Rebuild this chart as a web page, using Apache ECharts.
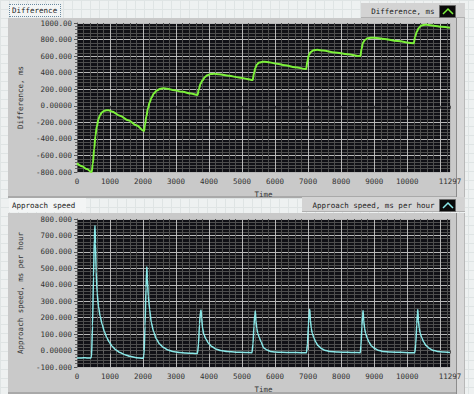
<!DOCTYPE html>
<html>
<head>
<meta charset="utf-8">
<script src="https://cdn.jsdelivr.net/npm/echarts@6/dist/echarts.min.js"></script>
<style>
  html, body { margin: 0; padding: 0; }
  body {
    width: 474px; height: 394px; overflow: hidden; position: relative;
    background-color: #eef1f1;
    background-image:
      linear-gradient(to right, #dfe4e4 1px, transparent 1px),
      linear-gradient(to bottom, #dfe4e4 1px, transparent 1px);
    background-size: 9px 9px;
  }
  .pnl { position: absolute; background: #c9c9c9; border-bottom: 2px solid #a9a9a9; box-sizing: border-box; }
  .strip { position: absolute; background: #d8d8d8; border-left: 1px solid #8c8c8c; border-right: 1px solid #b8b8b8; box-sizing: border-box; }
  .lgbox { position: absolute; background: #d3d3d3; border-bottom: 1px solid #b0b0b0; box-sizing: border-box; }
  .ttlbox { position: absolute; background: #f3f5f5; box-sizing: border-box; }
  #chart { position: absolute; left: 0; top: 0; width: 474px; height: 394px; }
</style>
</head>
<body>
<div class="pnl" style="left:8px;top:18px;width:448px;height:180px;"></div>
<div class="strip" style="left:456px;top:18px;width:9px;height:180px;"></div>
<div class="lgbox" style="left:361px;top:3px;width:104px;height:15px;"></div>
<div class="ttlbox" style="left:9px;top:4px;width:52px;height:13px;border:1px dotted #6a8aa0;"></div>
<div class="pnl" style="left:8px;top:213px;width:448px;height:181px;"></div>
<div class="strip" style="left:456px;top:213px;width:9px;height:181px;"></div>
<div class="lgbox" style="left:302px;top:197px;width:163px;height:15px;"></div>
<div class="ttlbox" style="left:9px;top:198px;width:77px;height:14px;"></div>
<div id="chart"></div>
<script>
// ---- data ----
const diffTime = [0,150,300,445,480,520,560,600,650,700,760,830,900,960,1050,1300,1550,1800,2030,
  2060,2100,2150,2200,2260,2330,2420,2520,2620,2750,2900,3200,3450,3650,
  3690,3740,3800,3870,3950,4050,4150,4300,4600,4900,5150,5320,
  5360,5400,5450,5520,5620,5750,6000,6300,6600,6940,
  6980,7020,7080,7170,7280,7450,7800,8200,8583,
  8620,8660,8720,8800,8900,9000,9300,9700,10199,
  10240,10290,10350,10420,10500,10600,10800,11050,11297];
const diffValue = [-695,-730,-765,-802,-700,-520,-360,-250,-160,-110,-78,-60,-54,-55,-68,-120,-175,-235,-305,
  -230,-130,-30,40,100,150,185,205,211,205,192,168,148,130,
  200,265,305,345,370,383,386,380,362,343,325,311,
  390,455,500,522,531,530,512,490,466,444,
  540,613,650,672,676,668,645,622,601,
  690,762,795,815,823,823,808,782,755,
  830,895,940,968,977,978,968,955,941];

const speedTime = [0,100,200,300,400,440,470,500,525,545,560,580,610,650,700,760,830,900,980,1070,1170,1300,1450,1600,1800,2000,
  2030,2060,2090,2115,2130,2160,2200,2250,2320,2400,2500,2620,2760,2900,3100,3300,3500,3650,
  3680,3710,3735,3756,3775,3800,3840,3900,3980,4080,4200,4350,4550,4800,5100,5300,
  5330,5360,5385,5402,5420,5445,5475,5520,5580,5655,5760,5860,6000,6200,6500,6800,6950,
  6980,7010,7035,7050,7070,7095,7125,7170,7230,7300,7400,7500,7650,7900,8200,8400,8580,
  8600,8630,8650,8665,8685,8710,8740,8785,8845,8920,9020,9120,9260,9500,9800,10050,10230,
  10260,10290,10310,10322,10340,10365,10395,10440,10500,10575,10675,10775,10920,11100,11297];
const speedValue = [-45,-46,-44,-45,-46,-40,150,450,680,760,650,480,350,270,210,160,115,80,50,25,5,-12,-25,-35,-43,-47,
  -30,150,380,510,440,330,250,170,115,72,40,18,3,-6,-12,-15,-17,-18,
  40,160,230,247,200,140,100,72,45,25,10,0,-6,-10,-12,-13,
  40,150,220,241,180,135,105,80,50,16,3,-5,-9,-11,-12,-13,-13,
  40,160,230,251,185,135,105,80,52,30,12,2,-5,-9,-11,-12,-13,
  30,150,215,243,180,135,105,78,50,28,12,2,-5,-9,-11,-13,-14,
  40,160,225,249,185,135,105,80,52,30,12,2,-5,-9,-12];

const xLabelValues = [0,1000,2000,3000,4000,5000,6000,7000,8000,9000,10000,11297];
const diffTicks = { min: -800, max: 1000, step: 200 };
const speedTicks = { min: -100, max: 800, step: 100 };

const diffName = 'Difference, ms';
const speedName = 'Approach speed, ms per hour';

// ---- chart ----
const FONT = 'DejaVu Sans Mono';
const FS = 7.5;
const LABEL = { fontFamily: FONT, fontSize: FS, color: '#333' };

function fmt(v) { return v === 0 ? '0.00000' : Number(v).toPrecision(6); }

function xAxisFor(gi) {
  return {
    type: 'value', gridIndex: gi, min: 0, max: xLabelValues[xLabelValues.length - 1], interval: 1000,
    name: 'Time', nameLocation: 'middle', nameGap: 18,
    nameTextStyle: LABEL,
    axisLine: { show: true, lineStyle: { color: '#555' } },
    axisTick: { show: true, length: 3, lineStyle: { color: '#555' } },
    minorTick: { show: true, splitNumber: 5, length: 2, lineStyle: { color: '#666' } },
    axisLabel: Object.assign({ margin: 5, customValues: xLabelValues, formatter: v => String(Math.round(v)) }, LABEL),
    splitLine: { show: true, lineStyle: { color: '#b8b8b8', width: 1 } },
    minorSplitLine: { show: true, lineStyle: { color: '#4e4e4e', width: 1 } }
  };
}
function yAxisFor(gi, t, name) {
  return {
    type: 'value', gridIndex: gi, min: t.min, max: t.max, interval: t.step,
    name: name, nameLocation: 'middle', nameGap: 45,
    nameTextStyle: LABEL,
    axisLine: { show: true, lineStyle: { color: '#555' } },
    axisTick: { show: true, length: 3, lineStyle: { color: '#555' } },
    minorTick: { show: true, splitNumber: 5, length: 2, lineStyle: { color: '#666' } },
    axisLabel: Object.assign({ margin: 5, formatter: fmt }, LABEL),
    splitLine: { show: true, lineStyle: { color: '#b8b8b8', width: 1 } },
    minorSplitLine: { show: true, lineStyle: { color: '#4e4e4e', width: 1 } }
  };
}

const chart = echarts.init(document.getElementById('chart'), null, { renderer: 'svg' });
chart.setOption({
  animation: false,
  backgroundColor: 'transparent',
  title: [
    { text: 'Difference', left: 12, top: 6, padding: 0, textStyle: { fontFamily: FONT, fontSize: FS, fontWeight: 'normal', color: '#222' } },
    { text: 'Approach speed', left: 12, top: 201, padding: 0, textStyle: { fontFamily: FONT, fontSize: FS, fontWeight: 'normal', color: '#222' } }
  ],
  legend: [
    { data: [diffName], right: 18, top: 5, padding: 0, align: 'right', icon: 'rect', itemWidth: 16, itemHeight: 12, itemGap: 5,
      itemStyle: { color: '#0a0a0a', borderColor: '#6a6a6a', borderWidth: 1 }, textStyle: { fontFamily: FONT, fontSize: FS, color: '#222' }, selectedMode: false },
    { data: [speedName], right: 18, top: 199, padding: 0, align: 'right', icon: 'rect', itemWidth: 16, itemHeight: 12, itemGap: 5,
      itemStyle: { color: '#0a0a0a', borderColor: '#6a6a6a', borderWidth: 1 }, textStyle: { fontFamily: FONT, fontSize: FS, color: '#222' }, selectedMode: false }
  ],
  graphic: [
    { type: 'polyline', z: 100, shape: { points: [[443, 14], [448, 9], [453, 14]] }, style: { stroke: '#7cf03a', lineWidth: 1.5, fill: null } },
    { type: 'polyline', z: 100, shape: { points: [[443, 208], [448, 203], [453, 208]] }, style: { stroke: '#8ae8e8', lineWidth: 1.5, fill: null } }
  ],
  grid: [
    { left: 77, right: 24, top: 23, height: 149, show: true, backgroundColor: '#111116', borderWidth: 0 },
    { left: 77, right: 24, top: 219, height: 148, show: true, backgroundColor: '#111116', borderWidth: 0 }
  ],
  xAxis: [xAxisFor(0), xAxisFor(1)],
  yAxis: [yAxisFor(0, diffTicks, diffName), yAxisFor(1, speedTicks, speedName)],
  series: [
    { name: diffName, type: 'line', xAxisIndex: 0, yAxisIndex: 0, showSymbol: false, symbol: 'none',
      smooth: 0.35, smoothMonotone: 'x', color: '#7cf03a', lineStyle: { color: '#7cf03a', width: 2 },
      data: diffTime.map((t, i) => [t, diffValue[i]]) },
    { name: speedName, type: 'line', xAxisIndex: 1, yAxisIndex: 1, showSymbol: false, symbol: 'none',
      smooth: 0.2, smoothMonotone: 'x', color: '#8ae8e8', lineStyle: { color: '#8ae8e8', width: 1.5 },
      data: speedTime.map((t, i) => [t, speedValue[i]]) }
  ]
});
</script>
</body>
</html>
